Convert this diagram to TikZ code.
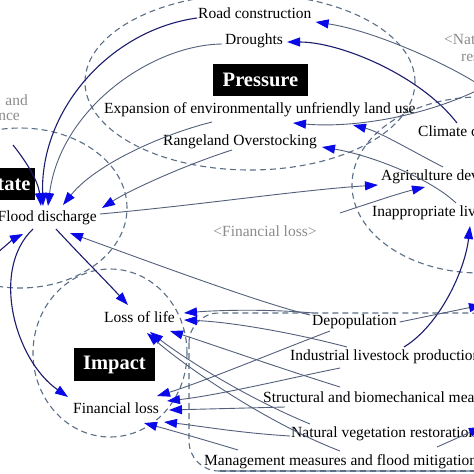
\documentclass[tikz,border=0pt]{standalone}
\usepackage{fontspec}
\setmainfont{Liberation Serif}
\usetikzlibrary{arrows.meta,calc}
\definecolor{arrblue}{HTML}{0A0AE8}
\definecolor{lgray}{HTML}{53607C}
\definecolor{navyc}{HTML}{1C1C6E}
\definecolor{dashc}{HTML}{5B6F86}
\definecolor{shadowc}{HTML}{8C8C8C}
\begin{document}
\begin{tikzpicture}[x=1pt,y=-1pt,
 lbl/.style={font=\fontsize{15.5}{16.5}\selectfont, inner sep=1pt, text=black},
 shd/.style={lbl, text=shadowc},
 blk/.style={fill=black, text=white, font=\fontsize{20.5}{24}\selectfont\bfseries, inner sep=0pt, minimum height=32pt},
 tip/.style={-{Triangle[length=13pt,width=9pt,color=arrblue]}},
 lnk/.style={draw=lgray, line width=0.9pt, tip},
 nlnk/.style={draw=navyc, line width=1.1pt, tip},
 dsh/.style={draw=dashc, line width=1.1pt, dash pattern=on 6pt off 4pt},
]
\useasboundingbox (0,0) rectangle (474,474);
\fill[white] (0,0) rectangle (474,474);
\clip (0,0) rectangle (474,474);

% dashed groups
\draw[dsh] (250,82) ellipse [x radius=165pt, y radius=88pt];
\draw[dsh] (20,208) ellipse [x radius=107pt, y radius=80pt];
\draw[dsh] (110,353) ellipse [x radius=77pt, y radius=84pt];
\draw[dsh] (480,185) ellipse [x radius=128pt, y radius=88pt];
\draw[dsh, rounded corners=30pt] (189,313) rectangle (500,471);
\draw[dsh, line width=2.4pt] (220,471) -- (500,471);

% nodes
\node[lbl, anchor=west] (road) at (197,13) {Road construction};
\node[lbl, anchor=west] (drought) at (224,41) {Droughts};
\node[blk, minimum width=95pt] (pressure) at (260.5,80) {Pressure};
\node[lbl, anchor=west] (expansion) at (103,110) {Expansion of environmentally unfriendly land use};
\node[lbl, anchor=west] (rangeland) at (162,142) {Rangeland Overstocking};
\node[lbl, anchor=west] (climate) at (417,133) {Climate change};
\node[shd, anchor=north west, align=left] (natshadow) at (443,33) {<Natural vegetation\\\hspace*{17pt}restoration>};
\node[shd, anchor=east] (g1) at (29,100) {and};
\node[shd, anchor=east] (g2) at (21,117) {nce};
\node[blk, minimum width=53pt, anchor=east] (state) at (35,184) {State};
\node[lbl, anchor=east] (flood) at (98,218) {Flood discharge};
\node[shd] (finshadow) at (265,231) {<Financial loss>};
\node[lbl, anchor=west] (agri) at (380,177) {Agriculture development};
\node[lbl, anchor=west] (inapp) at (371,213) {Inappropriate livestock grazing};
\node[lbl, anchor=west] (loss) at (103,317) {Loss of life};
\node[blk, minimum width=81pt, minimum height=33pt] (impact) at (114.5,364.5) {Impact};
\node[lbl, anchor=west] (finloss) at (72,408) {Financial loss};
\node[lbl, anchor=west] (depop) at (311,322) {Depopulation};
\node[lbl, anchor=west] (industrial) at (289,357) {Industrial livestock production};
\node[lbl, anchor=west] (structural) at (262,397) {Structural and biomechanical measures};
\node[lbl, anchor=west] (natural) at (290,434) {Natural vegetation restoration};
\node[lbl, anchor=west] (management) at (203,462) {Management measures and flood mitigation};

\coordinate (t1) at (340,213);
\coordinate (r1) at (478,84);
\coordinate (r2) at (478,90);
\coordinate (l1) at (-4,254);
\coordinate (r3) at (482,305);
\coordinate (r4) at (482,427);

% connectors into Flood discharge
\draw[nlnk] ($(road.west)+(0,5)$) .. controls (110,30) and (40,110) .. ($(flood.east)+(-55,-12)$);
\draw[lnk] ($(drought.west)+(-2,3)$) .. controls (150,45) and (60,110) .. ($(flood.east)+(-50,-12)$);
\draw[nlnk] ($(g2.east)+(-8,28)$) .. controls (25,160) and (38,180) .. ($(flood.east)+(-57,-12)$);
\draw[lnk] ($(expansion.west)+(109,12)$) .. controls (160,135) and (95,165) .. ($(flood.east)+(-35,-13)$);
\draw[lnk] ($(rangeland.west)+(70,8)$) .. controls (185,165) and (130,190) .. ($(flood.east)+(4,-10)$);
\draw[lnk] ($(depop.west)+(-1,-7)$) .. controls (260,303) and (150,262) .. ($(flood.east)+(-28,15)$);
\draw[nlnk] (l1) .. controls (5,246) and (15,238) .. ($(flood.east)+(-75,16)$);

% pressure region
\draw[lnk] ($(flood.east)+(2,-4)$) .. controls (200,205) and (300,190) .. ($(agri.west)+(-2,8)$);
\draw[lnk] (t1) .. controls (370,203) and (400,193) .. ($(agri.west)+(45,10)$);
\draw[nlnk] ($(climate.west)+(40,-10)$) .. controls (420,75) and (340,42) .. ($(drought.east)+(3,1)$);
\draw[lnk] (r1) .. controls (440,60) and (370,30) .. ($(road.east)+(3,9)$);
\draw[lnk] (r2) .. controls (420,118) and (350,128) .. ($(expansion.west)+(190,13)$);
\draw[lnk] ($(agri.west)+(63,-10)$) .. controls (410,150) and (380,132) .. ($(expansion.west)+(250,15)$);
\draw[lnk] ($(inapp.west)+(85,-10)$) .. controls (430,178) and (370,155) .. ($(rangeland.west)+(160,5)$);

% impact region
\draw[nlnk] ($(flood.east)+(-42,11)$) .. controls (80,255) and (105,280) .. ($(loss.west)+(25,-12)$);
\draw[nlnk] ($(flood.east)+(-65,11)$) .. controls (-10,270) and (15,360) .. ($(finloss.west)+(-4,-11)$);

\draw[lnk] ($(depop.west)+(2,-9)$) .. controls (270,309) and (220,310) .. ($(loss.west)+(81,-4)$);
\draw[lnk] ($(industrial.west)+(58,-10)$) .. controls (290,332) and (230,322) .. ($(loss.west)+(81,3)$);
\draw[lnk] ($(structural.west)+(78,-10)$) .. controls (270,365) and (205,342) .. ($(loss.west)+(67,14)$);
\draw[lnk] ($(natural.west)+(20,-10)$) .. controls (240,395) and (180,355) .. ($(loss.west)+(47,15)$);
\draw[lnk] ($(management.west)+(137,-11)$) .. controls (260,420) and (180,362) .. ($(loss.west)+(44,16)$);

\draw[lnk] ($(depop.west)+(19,9)$) .. controls (280,350) and (200,383) .. ($(finloss.west)+(85,-12)$);
\draw[lnk] ($(industrial.west)+(51,11)$) .. controls (290,378) and (220,395) .. ($(finloss.west)+(95,-7)$);
\draw[lnk] ($(structural.west)+(23,10)$) -- ($(finloss.west)+(97,2)$);
\draw[lnk] ($(natural.west)+(0,2)$) .. controls (240,433) and (200,426) .. ($(finloss.west)+(92,14)$);
\draw[lnk] ($(management.west)+(35,-12)$) .. controls (205,440) and (170,430) .. ($(finloss.west)+(72,15)$);

\draw[nlnk] ($(industrial.west)+(115,-10)$) .. controls (440,325) and (465,270) .. ($(inapp.west)+(99,13)$);
\draw[lnk] ($(depop.east)+(2,0)$) -- (r3);
\draw[lnk] ($(management.west)+(234,-15)$) -- (r4);
\end{tikzpicture}
\end{document}
